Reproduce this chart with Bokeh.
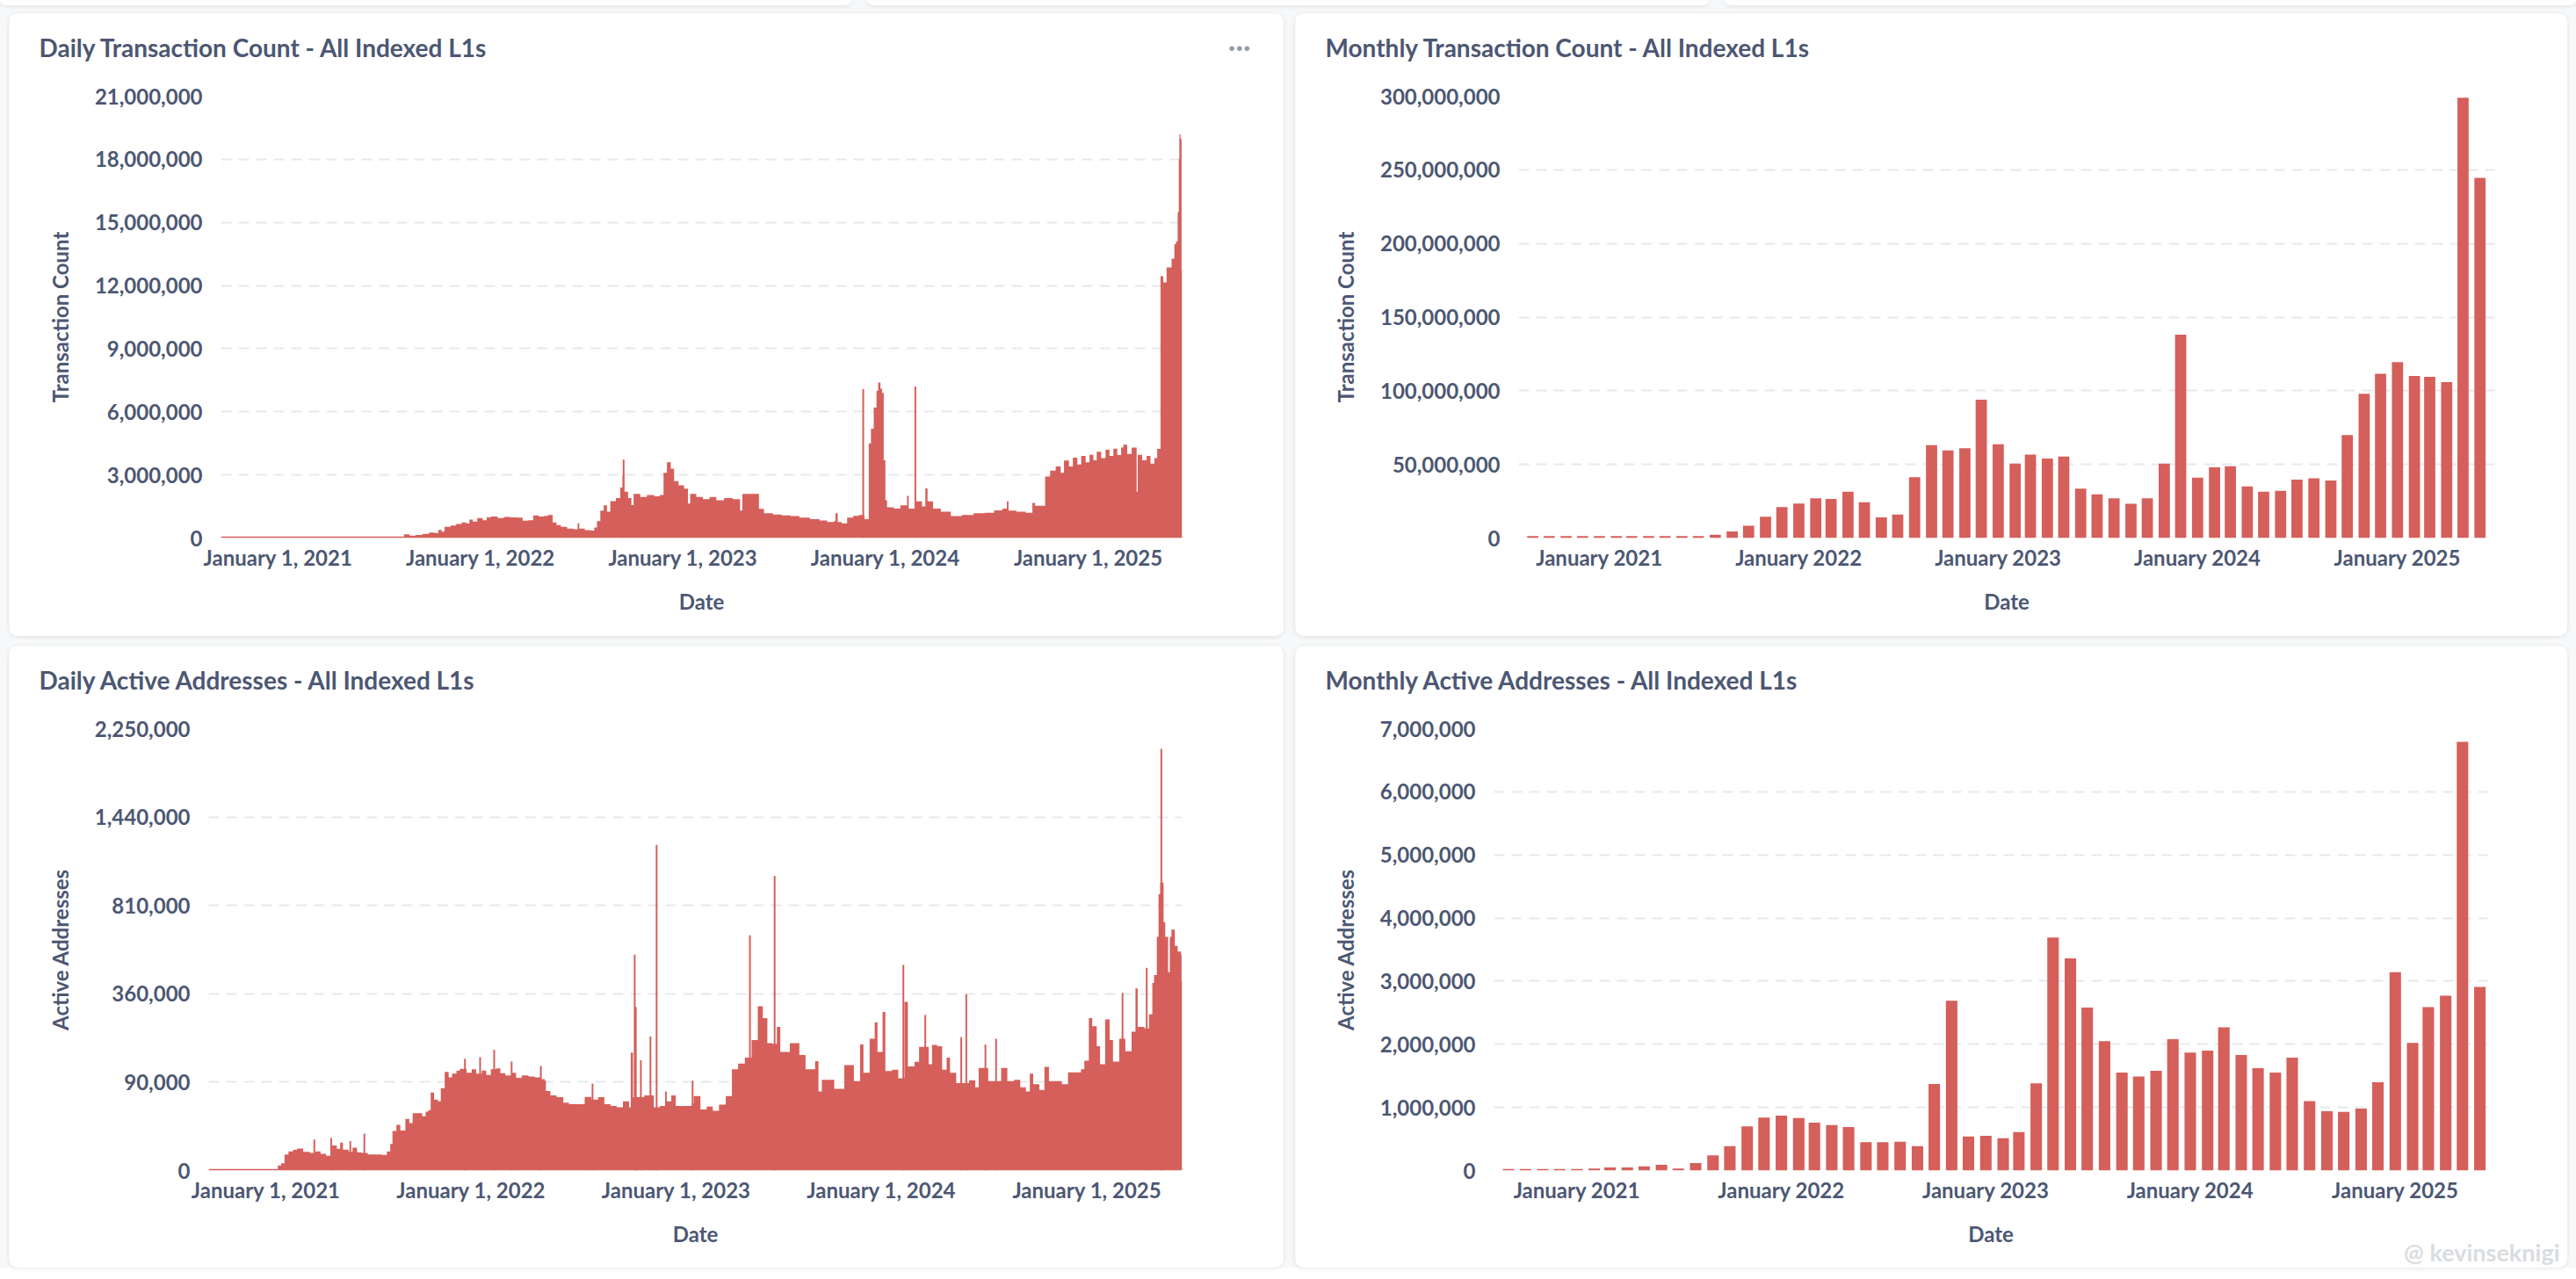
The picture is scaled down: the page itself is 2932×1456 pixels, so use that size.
import numpy as np
import pandas as pd
from bokeh.plotting import figure
from bokeh.layouts import row, column
from bokeh.models import Range1d, FixedTicker, NumeralTickFormatter, Title, Div
from bokeh.embed import file_html
from bokeh.resources import INLINE


#########################################################
# data
#########################################################

# daily transaction count, millions; each value holds until the next date
daily_tx_dates = [
    "2020-09-20", "2021-08-16", "2021-08-26", "2021-09-06", "2021-09-18", "2021-09-30", "2021-10-10",
    "2021-10-17", "2021-10-23", "2021-10-28", "2021-11-08", "2021-11-18", "2021-11-28", "2021-12-06",
    "2021-12-12", "2021-12-18", "2021-12-26", "2022-01-05", "2022-01-12", "2022-01-20", "2022-02-01",
    "2022-02-12", "2022-02-24", "2022-03-08", "2022-03-18", "2022-03-28", "2022-04-06", "2022-04-16",
    "2022-04-26", "2022-05-03", "2022-05-11", "2022-05-18", "2022-05-26", "2022-06-06", "2022-06-18",
    "2022-06-25", "2022-06-28", "2022-07-08", "2022-07-19", "2022-07-25", "2022-07-30", "2022-08-05",
    "2022-08-11", "2022-08-17", "2022-08-23", "2022-09-02", "2022-09-10", "2022-09-14", "2022-09-17",
    "2022-09-24", "2022-09-30", "2022-10-04", "2022-10-16", "2022-10-28", "2022-11-10", "2022-11-20",
    "2022-11-27", "2022-12-03", "2022-12-10", "2022-12-16", "2022-12-24", "2023-01-03", "2023-01-10",
    "2023-01-14", "2023-01-25", "2023-02-06", "2023-02-18", "2023-03-02", "2023-03-16", "2023-04-01",
    "2023-04-14", "2023-04-18", "2023-05-18", "2023-05-27", "2023-06-12", "2023-06-28", "2023-07-14",
    "2023-07-30", "2023-08-18", "2023-09-04", "2023-09-18", "2023-09-30", "2023-10-03", "2023-10-07",
    "2023-10-14", "2023-10-24", "2023-11-04", "2023-11-14", "2023-11-24", "2023-12-02", "2023-12-06",
    "2023-12-11", "2023-12-16", "2023-12-19", "2023-12-23", "2023-12-26", "2023-12-29", "2024-01-01",
    "2024-01-04", "2024-01-16", "2024-01-28", "2024-02-09", "2024-02-12", "2024-02-25", "2024-03-07",
    "2024-03-13", "2024-03-17", "2024-03-27", "2024-04-10", "2024-04-28", "2024-05-18", "2024-06-08",
    "2024-06-28", "2024-07-15", "2024-07-30", "2024-08-07", "2024-08-10", "2024-08-24", "2024-09-10",
    "2024-09-22", "2024-09-27", "2024-10-15", "2024-10-24", "2024-11-03", "2024-11-12", "2024-11-18",
    "2024-11-27", "2024-12-04", "2024-12-12", "2024-12-19", "2024-12-27", "2025-01-03", "2025-01-10",
    "2025-01-16", "2025-01-24", "2025-02-01", "2025-02-08", "2025-02-15", "2025-02-22", "2025-03-01",
    "2025-03-05", "2025-03-12", "2025-03-20", "2025-03-29", "2025-03-31", "2025-04-08", "2025-04-16",
    "2025-04-23", "2025-04-30", "2025-05-05", "2025-05-11", "2025-05-16", "2025-05-22", "2025-05-31",
    "2025-06-05", "2025-06-08", "2025-06-11", "2025-06-13", "2025-06-14", "2025-06-16", "2025-06-18",
    "2025-06-19",
]
daily_tx_m = [
    0.07, 0.18, 0.12, 0.15, 0.2, 0.26, 0.24,
    0.39, 0.3, 0.53, 0.6, 0.67, 0.74, 0.7,
    0.88, 0.78, 0.95, 0.85, 0.98, 1.02, 0.95,
    1.0, 0.98, 0.97, 0.82, 0.85, 1.08, 1.02,
    1.05, 1.1, 0.74, 0.62, 0.53, 0.45, 0.42,
    0.7, 0.45, 0.38, 0.35, 0.5, 0.8, 1.3,
    1.55, 1.25, 1.75, 1.9, 2.4, 3.0, 2.2,
    1.9, 1.57, 2.1, 1.95, 2.05, 1.98, 2.05,
    3.1, 3.6, 3.3, 2.7, 2.5, 2.35, 1.64,
    2.1, 1.95, 1.85, 1.95, 1.8, 1.9, 1.85,
    1.3, 2.1, 1.39, 1.18, 1.12, 1.08, 1.04,
    0.97, 0.9, 0.83, 0.76, 0.8, 1.18, 0.76,
    0.7, 0.97, 1.05, 1.1, 0.9, 4.5, 5.2,
    6.2, 7.0, 7.39, 7.1, 6.9, 3.7, 1.8,
    1.46, 1.4, 1.55, 2.0, 1.4, 1.74, 1.5,
    2.36, 1.74, 1.4, 1.25, 1.04, 1.1, 1.18,
    1.2, 1.32, 1.4, 1.74, 1.3, 1.25, 1.2,
    1.67, 1.53, 2.92, 3.2, 3.4, 3.1, 3.68,
    3.4, 3.82, 3.5, 3.9, 3.6, 3.96, 3.7,
    4.1, 3.8, 4.2, 3.9, 4.25, 3.95, 4.3,
    4.44, 4.0, 4.3, 2.2, 3.96, 3.7, 3.9,
    3.54, 3.8, 4.24, 12.44, 12.15, 12.86, 13.28,
    13.96, 14.1, 15.5, 18.0, 19.18, 18.97, 12.7,
    12.7,
]
daily_tx_spike_dates = ["2022-09-16", "2023-11-22", "2024-02-24"]
daily_tx_spike_m = [3.73, 7.08, 7.2]

# daily active addresses, thousands; each value holds until the next date
daily_aa_dates = [
    "2020-09-21", "2021-01-22", "2021-01-28", "2021-02-03", "2021-02-10", "2021-02-18", "2021-02-25",
    "2021-03-08", "2021-03-20", "2021-03-30", "2021-04-08", "2021-04-18", "2021-04-28", "2021-05-07",
    "2021-05-13", "2021-05-18", "2021-05-28", "2021-06-04", "2021-06-12", "2021-06-20", "2021-07-01",
    "2021-07-18", "2021-07-26", "2021-08-04", "2021-08-10", "2021-08-14", "2021-08-21", "2021-08-28",
    "2021-09-06", "2021-09-13", "2021-09-19", "2021-10-06", "2021-10-12", "2021-10-17", "2021-10-21",
    "2021-10-27", "2021-11-03", "2021-11-08", "2021-11-15", "2021-11-22", "2021-11-28", "2021-12-06",
    "2021-12-12", "2021-12-24", "2022-01-02", "2022-01-10", "2022-01-20", "2022-01-28", "2022-02-05",
    "2022-02-14", "2022-02-22", "2022-03-03", "2022-03-14", "2022-03-22", "2022-04-01", "2022-04-13",
    "2022-04-24", "2022-05-05", "2022-05-12", "2022-05-14", "2022-05-22", "2022-06-02", "2022-06-14",
    "2022-06-24", "2022-07-11", "2022-07-22", "2022-08-03", "2022-08-15", "2022-08-26", "2022-09-06",
    "2022-09-17", "2022-09-28", "2022-10-09", "2022-10-12", "2022-10-16", "2022-10-26", "2022-11-05",
    "2022-11-22", "2022-12-03", "2022-12-12", "2022-12-15", "2022-12-23", "2022-12-31", "2023-01-17",
    "2023-01-29", "2023-02-01", "2023-02-13", "2023-02-24", "2023-03-07", "2023-03-18", "2023-03-30",
    "2023-04-10", "2023-04-21", "2023-05-03", "2023-05-15", "2023-05-26", "2023-06-04", "2023-06-12",
    "2023-06-21", "2023-06-29", "2023-07-05", "2023-07-22", "2023-08-08", "2023-08-19", "2023-09-05",
    "2023-09-11", "2023-09-17", "2023-10-09", "2023-10-27", "2023-11-13", "2023-11-24", "2023-11-30",
    "2023-12-11", "2023-12-20", "2023-12-25", "2024-01-03", "2024-01-08", "2024-01-20", "2024-01-31",
    "2024-02-11", "2024-02-17", "2024-02-29", "2024-03-08", "2024-03-25", "2024-03-31", "2024-04-09",
    "2024-04-18", "2024-04-26", "2024-05-02", "2024-05-13", "2024-06-05", "2024-06-16", "2024-06-22",
    "2024-07-09", "2024-08-01", "2024-08-12", "2024-08-24", "2024-09-04", "2024-09-14", "2024-09-21",
    "2024-09-27", "2024-10-08", "2024-10-17", "2024-10-25", "2024-11-17", "2024-11-28", "2024-12-21",
    "2024-12-27", "2025-01-04", "2025-01-10", "2025-01-18", "2025-01-24", "2025-02-02", "2025-02-10",
    "2025-02-16", "2025-02-27", "2025-03-10", "2025-03-21", "2025-03-28", "2025-04-01", "2025-04-13",
    "2025-04-21", "2025-04-27", "2025-04-30", "2025-05-05", "2025-05-08", "2025-05-11", "2025-05-17",
    "2025-05-20", "2025-05-25", "2025-05-28", "2025-05-31", "2025-06-06", "2025-06-11", "2025-06-17",
    "2025-06-18", "2025-06-19",
]
daily_aa_k = [
    0.03, 0.3, 0.6, 3.0, 4.2, 4.9, 5.6,
    4.0, 3.6, 4.2, 3.2, 2.5, 7.2, 5.5,
    9.0, 5.0, 4.0, 6.0, 3.8, 3.6, 3.0,
    3.0, 2.8, 4.2, 8.1, 18.0, 24.0, 18.5,
    30.6, 26.0, 38.0, 34.0, 40.0, 42.0, 70.0,
    58.0, 55.0, 78.0, 112.0, 100.0, 108.0, 115.0,
    119.0, 110.0, 118.0, 108.0, 115.0, 105.0, 118.0,
    120.0, 109.0, 104.0, 110.0, 99.0, 104.0, 102.0,
    100.0, 96.0, 93.0, 73.0, 65.0, 62.0, 53.0,
    50.6, 50.6, 62.5, 58.0, 62.0, 50.6, 48.0,
    46.0, 55.0, 46.0, 160.0, 62.0, 62.0, 65.0,
    46.0, 48.0, 72.0, 55.0, 65.0, 48.0, 48.0,
    52.0, 64.0, 43.0, 47.0, 41.0, 50.0, 64.0,
    118.0, 132.0, 147.0, 196.0, 311.0, 268.0, 187.0,
    185.0, 238.0, 162.0, 187.0, 154.0, 118.0, 138.0,
    72.0, 95.0, 77.0, 128.0, 92.0, 183.0, 110.0,
    200.0, 253.0, 162.0, 290.0, 114.0, 117.0, 98.0,
    328.0, 125.0, 136.0, 176.0, 130.0, 182.0, 178.0,
    117.0, 147.0, 110.0, 88.0, 94.0, 80.0, 121.0,
    92.0, 121.0, 92.0, 95.0, 80.0, 72.0, 108.0,
    86.0, 75.0, 124.0, 92.0, 86.0, 111.0, 118.0,
    139.0, 268.0, 240.0, 178.0, 130.0, 263.0, 196.0,
    137.0, 200.0, 164.0, 222.0, 382.0, 238.0, 233.0,
    281.0, 405.0, 440.0, 629.0, 880.0, 956.0, 711.0,
    629.0, 453.0, 629.0, 669.0, 582.0, 552.0, 537.0,
    413.0, 413.0,
]
daily_aa_spike_dates = [
    "2021-03-28", "2021-04-27", "2021-05-31", "2021-06-25", "2021-12-21", "2022-01-17", "2022-02-11",
    "2022-03-14", "2022-05-05", "2022-08-05", "2022-10-19", "2022-10-21", "2022-10-30", "2022-11-16",
    "2022-11-27", "2023-01-30", "2023-05-12", "2023-06-25", "2024-02-09", "2024-03-19", "2024-05-22",
    "2024-05-31", "2024-07-04", "2024-07-23", "2025-03-05", "2025-04-17", "2025-05-13",
]
daily_aa_spike_k = [
    11.0, 12.1, 10.0, 15.6, 144.0, 148.0, 168.0,
    137.0, 126.0, 87.0, 537.0, 308.0, 140.0, 207.0,
    1223.0, 93.0, 637.0, 1000.0, 487.0, 279.0, 205.0,
    358.0, 183.0, 200.0, 364.0, 473.0, 2050.0,
]

# monthly totals, Sep 2020 .. Jun 2025
months = pd.date_range("2020-09-01", "2025-06-01", freq="MS")
monthly_tx_m = [
    1.3, 1.3, 1.3, 1.3,
    1.3, 1.3, 1.3, 1.3, 1.3, 1.3, 1.3, 2.2, 4.5, 8.4, 14.5, 21.0,
    23.4, 27.0, 26.5, 31.5, 24.3, 14.0, 16.0, 41.3, 63.0, 59.5, 61.0, 94.0,
    63.6, 50.5, 56.7, 54.0, 55.3, 33.5, 29.6, 27.0, 23.2, 27.0, 50.5, 138.0,
    41.0, 48.0, 48.8, 35.0, 31.5, 32.0, 39.6, 40.5, 39.0, 70.0, 98.0, 111.6,
    119.5, 110.0, 109.4, 105.8, 299.0, 244.5,
]
monthly_aa_m = [
    0.026, 0.026, 0.026, 0.026,
    0.026, 0.03, 0.05, 0.05, 0.065, 0.09, 0.03, 0.12, 0.24, 0.385, 0.70, 0.84,
    0.87, 0.83, 0.76, 0.72, 0.69, 0.45, 0.45, 0.457, 0.385, 1.37, 2.69, 0.54,
    0.548, 0.51, 0.61, 1.38, 3.69, 3.36, 2.58, 2.05, 1.55, 1.49, 1.58, 2.08,
    1.87, 1.90, 2.27, 1.83, 1.62, 1.55, 1.79, 1.10, 0.94, 0.93, 0.98, 1.40,
    3.14, 2.02, 2.59, 2.77, 6.79, 2.91,
]

years = [2021, 2022, 2023, 2024, 2025]
tx_daily_ticks = [0, 3e6, 6e6, 9e6, 12e6, 15e6, 18e6, 21e6]
tx_monthly_ticks = [0, 50e6, 100e6, 150e6, 200e6, 250e6, 300e6]
aa_daily_ticks = [0, 90000, 360000, 810000, 1440000, 2250000]   # square-root axis
aa_monthly_ticks = [0, 1e6, 2e6, 3e6, 4e6, 5e6, 6e6, 7e6]


#########################################################
# styling
#########################################################

TEXT = "#4c5773"
RED = "#d55f5a"
GRID = "#e6e9ec"
FONT = "Lato"
DAY_MS = 86400000
SHADOW = "0 1px 5px rgba(0, 0, 0, 0.10)"


def year_ms(y):
    return pd.Timestamp(f"{y}-01-01").value / 1e6


# one white dashboard card holding one chart
def make_card(title, w, h, borders, x_start, x_end, y_end, y_title, margin):
    left, right, top, bottom = borders
    p = figure(width=w, height=h, x_axis_type="datetime",
               x_range=Range1d(pd.Timestamp(x_start), pd.Timestamp(x_end)),
               y_range=Range1d(0, y_end),
               output_backend="svg", toolbar_location=None,
               min_border_left=left, min_border_right=right,
               min_border_top=top, min_border_bottom=bottom,
               background_fill_color="white", border_fill_color="white",
               outline_line_color=None, margin=margin,
               styles={"border-radius": "10px", "overflow": "hidden", "box-shadow": SHADOW})

    p.xgrid.grid_line_color = None
    p.ygrid.grid_line_color = GRID
    p.ygrid.grid_line_width = 2
    p.ygrid.grid_line_dash = "12 8"

    for ax in (p.xaxis[0], p.yaxis[0]):
        ax.axis_line_color = None
        ax.major_tick_line_color = None
        ax.minor_tick_line_color = None
        ax.major_tick_out = 0
        ax.major_tick_in = 0
        ax.minor_tick_out = 0
        ax.minor_tick_in = 0
        ax.major_label_text_font = FONT
        ax.major_label_text_font_size = "24px"
        ax.major_label_text_font_style = "bold"
        ax.major_label_text_color = TEXT
        ax.axis_label_text_font = FONT
        ax.axis_label_text_font_size = "24px"
        ax.axis_label_text_font_style = "bold"
        ax.axis_label_text_color = TEXT

    p.xaxis.axis_label = "Date"
    p.xaxis.major_label_standoff = 7
    p.xaxis.axis_label_standoff = 18
    p.yaxis.axis_label = y_title
    p.yaxis.major_label_standoff = 21
    p.yaxis.axis_label_standoff = 22

    # blank title next to the frame keeps the card title up near the top edge
    p.add_layout(Title(text=" ", text_font=FONT, text_font_size="24px", standoff=8), "above")
    p.add_layout(Title(text=title, text_font=FONT, text_font_size="28px", text_font_style="bold",
                       text_color=TEXT, align="left", offset=34 - left, standoff=-1), "above")
    return p


def date_ticks(p, fmt):
    ticks = [year_ms(y) for y in years]
    p.xaxis.ticker = FixedTicker(ticks=ticks)
    p.xaxis.major_label_overrides = {t: fmt.format(y) for t, y in zip(ticks, years)}


# bottom edges of the dashboard row above, scrolled mostly out of view
def card_edge(w, left):
    return Div(text="", width=w, height=6, margin=(0, 0, 0, left),
               styles={"background-color": "white", "border-radius": "0 0 10px 10px",
                       "box-shadow": SHADOW})


#########################################################
# charts
#########################################################

# daily transaction count
p1 = make_card("Daily Transaction Count - All Indexed L1s", 1451, 709, (241, 116, 94, 112),
               "2020-09-20", "2025-06-19", 21e6, "Transaction Count", (9, 0, 0, 10))
x = pd.to_datetime(daily_tx_dates)
p1.varea_step(x=x, y1=0, y2=np.array(daily_tx_m) * 1e6, step_mode="after", fill_color=RED)
sx = pd.to_datetime(daily_tx_spike_dates)
p1.segment(x0=sx, y0=0, x1=sx, y1=np.array(daily_tx_spike_m) * 1e6, line_color=RED, line_width=2)
p1.yaxis.ticker = FixedTicker(ticks=tx_daily_ticks)
p1.yaxis.formatter = NumeralTickFormatter(format="0,0")
date_ticks(p1, "January 1, {}")
# the card's "more" menu, hung below a panel of no height on the title's top edge
p1.add_layout(Title(text="...", text_font=FONT, text_font_size="36px", text_font_style="bold",
                    text_color="#949aa8", align="right", offset=-78, vertical_align="bottom",
                    standoff=-45), "above")

# monthly transaction count
p2 = make_card("Monthly Transaction Count - All Indexed L1s", 1448, 709, (254, 83, 94, 112),
               "2020-08-06", "2025-06-28", 300e6, "Transaction Count", (9, 0, 0, 13))
p2.vbar(x=months, top=np.array(monthly_tx_m) * 1e6, width=20.5 * DAY_MS, fill_color=RED, line_color=None)
p2.yaxis.ticker = FixedTicker(ticks=tx_monthly_ticks)
p2.yaxis.formatter = NumeralTickFormatter(format="0,0")
date_ticks(p2, "January {}")

# daily active addresses (square-root y axis)
p3 = make_card("Daily Active Addresses - All Indexed L1s", 1451, 708, (227, 116, 94, 111),
               "2020-09-21", "2025-06-19", np.sqrt(2250000), "Active Addresses", (11, 0, 0, 10))
x = pd.to_datetime(daily_aa_dates)
p3.varea_step(x=x, y1=0, y2=np.sqrt(np.array(daily_aa_k) * 1e3), step_mode="after", fill_color=RED)
sx = pd.to_datetime(daily_aa_spike_dates)
p3.segment(x0=sx, y0=0, x1=sx, y1=np.sqrt(np.array(daily_aa_spike_k) * 1e3), line_color=RED, line_width=2)
p3.yaxis.ticker = FixedTicker(ticks=[float(np.sqrt(t)) for t in aa_daily_ticks])
p3.yaxis.major_label_overrides = {float(np.sqrt(t)): f"{t:,}" for t in aa_daily_ticks}
date_ticks(p3, "January 1, {}")

# monthly active addresses
p4 = make_card("Monthly Active Addresses - All Indexed L1s", 1448, 708, (226, 91, 94, 111),
               "2020-08-06", "2025-06-15", 7e6, "Active Addresses", (11, 0, 0, 13))
p4.vbar(x=months, top=np.array(monthly_aa_m) * 1e6, width=20.5 * DAY_MS, fill_color=RED, line_color=None)
p4.yaxis.ticker = FixedTicker(ticks=aa_monthly_ticks)
p4.yaxis.formatter = NumeralTickFormatter(format="0,0")
date_ticks(p4, "January {}")
# faint watermark along the card's lower edge, kept inside the card
p4.add_layout(Title(text="@ kevinseknigi", text_font=FONT, text_font_size="27px",
                    text_color="#d9dce0", align="right", offset=-82, vertical_align="top",
                    standoff=-26), "below")

edges = row(card_edge(969, 0), card_edge(958, 18), card_edge(969, 18))
layout = column(edges, row(p1, p2), row(p3, p4), styles={"background-color": "#f7f8fa"})

open("out.html", "w").write(file_html(layout, INLINE))
